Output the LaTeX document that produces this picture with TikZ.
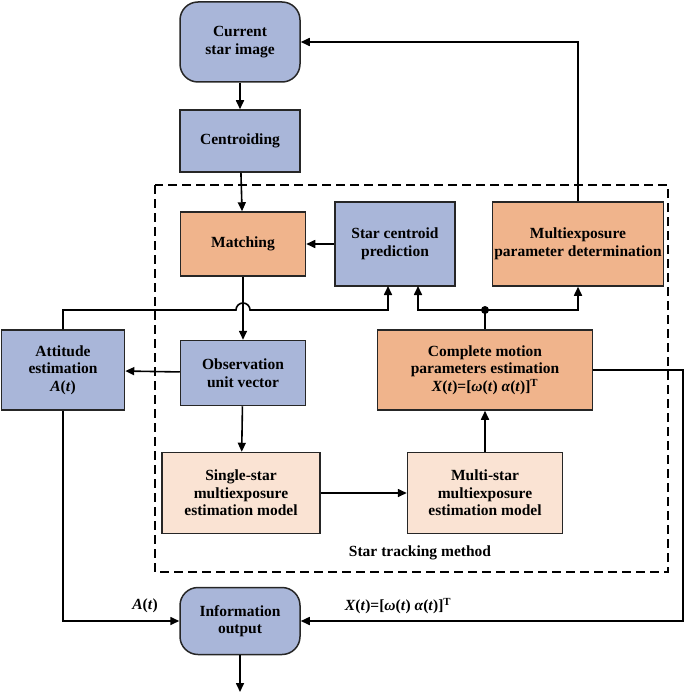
\documentclass[tikz,border=0pt]{standalone}
\usepackage{fontspec}
\setmainfont{Liberation Serif}
\usetikzlibrary{arrows.meta}
\definecolor{bl}{HTML}{A9B6D9}
\definecolor{orn}{HTML}{F0B48C}
\definecolor{pch}{HTML}{FAE3D3}
\newcommand{\iv}[1]{\textbf{\textit{#1}}}
\begin{document}
\begin{tikzpicture}[x=1pt,y=-1pt,
  box/.style={draw=black!85,line width=1.5pt,align=center,font=\fontsize{15.5}{17.5}\selectfont\bfseries,inner sep=2pt},
  b/.style={box,fill=bl}, o/.style={box,fill=orn}, p/.style={box,fill=pch},
  r/.style={b,rounded corners=18pt},
  ar/.style={line width=1.6pt,-{Triangle[length=9pt,width=8pt]}},
  ln/.style={line width=1.6pt},
  lab/.style={font=\fontsize{15.5}{17.5}\selectfont\bfseries}]
\useasboundingbox (0,0) rectangle (685,695);
\draw[line width=1.2pt,dash pattern=on 9pt off 5pt] (155,185) rectangle (668,572);
\node[r,minimum width=120pt,minimum height=80pt] (cur) at (240,42) {Current\\star image};
\node[b,minimum width=120pt,minimum height=62pt] (cen) at (240,141) {Centroiding};
\node[o,minimum width=125pt,minimum height=64pt] (mat) at (243,244) {Matching};
\node[b,minimum width=120pt,minimum height=84pt] (pre) at (395,244) {Star centroid\\prediction};
\node[o,minimum width=155pt,minimum height=84pt] (mul) at (578,244) {Multiexposure\\parameter determination};
\node[b,minimum width=123pt,minimum height=80pt] (att) at (63,370) {Attitude\\estimation\\\iv{A}(\iv{t})};
\node[b,minimum width=125pt,minimum height=65pt] (obs) at (243,373) {Observation\\unit vector};
\node[o,minimum width=215pt,minimum height=80pt] (cmp) at (485,370) {Complete motion\\parameters estimation\\\iv{X}(\iv{t})=[\iv{ω}(\iv{t}) \iv{α}(\iv{t})]\textsuperscript{T}};
\node[p,minimum width=158pt,minimum height=81pt] (sgl) at (241,493) {Single-star\\multiexposure\\estimation model};
\node[p,minimum width=155pt,minimum height=81pt] (mst) at (485,493) {Multi-star\\multiexposure\\estimation model};
\node[r,minimum width=120pt,minimum height=67pt] (inf) at (240,621) {Information\\output};
\node[lab] (stm) at (420,553) {Star tracking method};
\coordinate (end) at (240,692);
\coordinate (j) at (485,310);
\draw[ar] (cur) -- (cen);
\draw[ar] (cen) -- (mat);
\draw[ar] (mul.north) -- (578,42) -- (cur.east);
\draw[ar] (pre) -- (mat);
\draw[ar] (mat) -- (obs);
\draw[ar] (att.north) -- (63,310) -- (236,310) arc (180:0:7pt) -- (388,310) -- (388,286);
\draw[ln] (cmp.north) -- (j);
\fill (j) circle (4pt);
\draw[ar] (j) -- (418,310) -- (418,286);
\draw[ar] (j) -- (578,310) -- (mul.south);
\draw[ar] (obs) -- (att);
\draw[ar] (obs) -- (sgl);
\draw[ar] (sgl) -- (mst);
\draw[ar] (mst) -- (cmp);
\draw[ar] (cmp.east) -- (683,370) -- (683,621) -- (inf.east);
\draw[ar] (att.south) -- (63,621) -- (inf.west);
\draw[ar] (inf) -- (end);
\node[lab] (la) at (145,606) {\iv{A}(\iv{t})};
\node[lab] (lx) at (398,606) {\iv{X}(\iv{t})=[\iv{ω}(\iv{t}) \iv{α}(\iv{t})]\textsuperscript{T}};
\end{tikzpicture}
\end{document}
